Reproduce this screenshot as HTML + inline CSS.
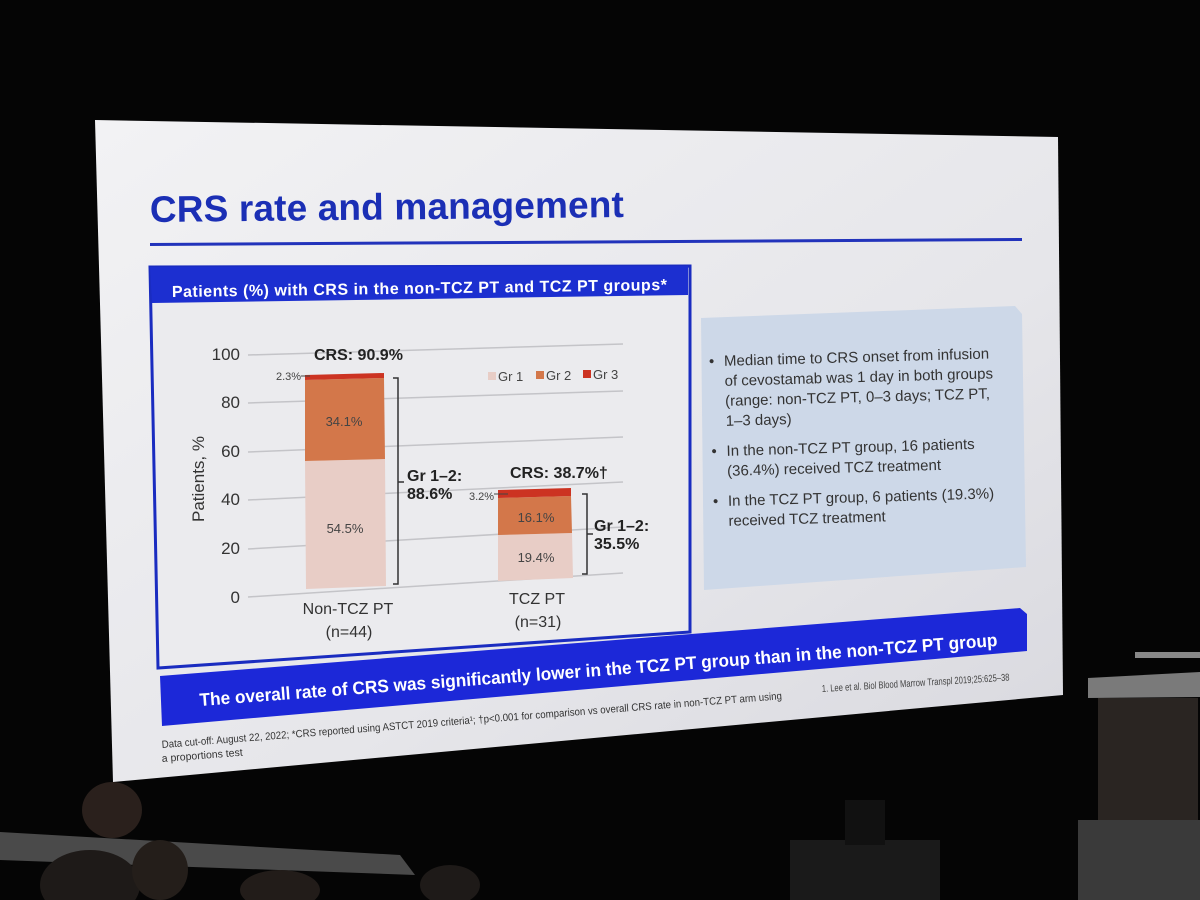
<!DOCTYPE html>
<html><head><meta charset="utf-8"><style>
html,body{margin:0;padding:0;background:#000;width:1200px;height:900px;overflow:hidden}
svg{display:block}
text{font-family:"Liberation Sans",Arial,sans-serif}
</style></head><body>
<svg width="1200" height="900" viewBox="0 0 1200 900">
<defs>
<linearGradient id="sl" x1="0" y1="0" x2="1" y2="1">
<stop offset="0" stop-color="#f2f2f4"/><stop offset="0.6" stop-color="#e6e6ea"/><stop offset="1" stop-color="#d8d8de"/>
</linearGradient>
</defs>
<rect width="1200" height="900" fill="#050505"/>
<polygon points="95,120 1058,137 1063,695 113,782" fill="url(#sl)"/>
<text x="150" y="222" font-size="37" font-weight="bold" fill="#1b2fb5" transform="rotate(-0.6 150 222)" textLength="474">CRS rate and management</text>
<polygon points="150,243 1022,238 1022,241 150,246" fill="#2233bb"/>
<polygon points="150,267 690,266 690,632 158,668" fill="#ebebee" stroke="#1a2cc0" stroke-width="3"/>
<polygon points="150,267 688,266 688,295 152,303" fill="#1c2fd0"/>
<text x="172" y="297" font-size="16" font-weight="bold" fill="#fff" transform="rotate(-0.8 172 297)" textLength="495">Patients (%) with CRS in the non-TCZ PT and TCZ PT groups*</text>
<g stroke="#c4c4c8" stroke-width="1.5">
<line x1="248" y1="355" x2="623" y2="344"/>
<line x1="248" y1="403" x2="623" y2="391"/>
<line x1="248" y1="452" x2="623" y2="437"/>
<line x1="248" y1="500" x2="623" y2="482"/>
<line x1="248" y1="549" x2="623" y2="527"/>
<line x1="248" y1="597" x2="623" y2="573"/>
</g>
<g font-size="17" fill="#333" text-anchor="end">
<text x="240" y="360">100</text><text x="240" y="408">80</text><text x="240" y="457">60</text>
<text x="240" y="505">40</text><text x="240" y="554">20</text><text x="240" y="603">0</text>
</g>
<text x="0" y="0" font-size="17" fill="#333" transform="translate(204 522) rotate(-90)">Patients, %</text>
<polygon points="306,589 386,586 385,459 305,461" fill="#e8cdc6"/>
<polygon points="305,461 385,459 384,378 305,380" fill="#d3774a"/>
<polygon points="305,380 384,378 384,373 305,375" fill="#cc3322"/>
<text x="345" y="533" font-size="13" fill="#444" text-anchor="middle">54.5%</text>
<text x="344" y="426" font-size="13" fill="#444" text-anchor="middle">34.1%</text>
<text x="276" y="380" font-size="11" fill="#444">2.3%</text>
<line x1="301" y1="376" x2="310" y2="376" stroke="#444"/>
<text x="314" y="360" font-size="16" font-weight="bold" fill="#222">CRS: 90.9%</text>
<path d="M393,378 h5 v206 h-5 M398,482 h6" fill="none" stroke="#333" stroke-width="1.5"/>
<text x="407" y="481" font-size="16" font-weight="bold" fill="#222">Gr 1–2:</text>
<text x="407" y="499" font-size="16" font-weight="bold" fill="#222">88.6%</text>
<text x="348" y="614" font-size="16" fill="#333" text-anchor="middle">Non-TCZ PT</text>
<text x="349" y="637" font-size="16" fill="#333" text-anchor="middle">(n=44)</text>
<polygon points="498,581 573,578 572,533 498,535" fill="#e8cdc6"/>
<polygon points="498,535 572,533 571,496 498,498" fill="#d3774a"/>
<polygon points="498,498 571,496 571,488 498,490" fill="#cc3322"/>
<text x="536" y="562" font-size="13" fill="#444" text-anchor="middle">19.4%</text>
<text x="536" y="522" font-size="13" fill="#444" text-anchor="middle">16.1%</text>
<text x="469" y="500" font-size="11" fill="#444">3.2%</text>
<line x1="494" y1="494" x2="508" y2="494" stroke="#444"/>
<text x="510" y="478" font-size="16" font-weight="bold" fill="#222">CRS: 38.7%†</text>
<path d="M582,494 h5 v80 h-5 M587,534 h6" fill="none" stroke="#333" stroke-width="1.5"/>
<text x="594" y="531" font-size="16" font-weight="bold" fill="#222">Gr 1–2:</text>
<text x="594" y="549" font-size="16" font-weight="bold" fill="#222">35.5%</text>
<text x="537" y="604" font-size="16" fill="#333" text-anchor="middle">TCZ PT</text>
<text x="538" y="627" font-size="16" fill="#333" text-anchor="middle">(n=31)</text>
<rect x="488" y="372" width="8" height="8" fill="#e8cdc6"/><text x="498" y="381" font-size="13" fill="#444">Gr 1</text>
<rect x="536" y="371" width="8" height="8" fill="#d3774a"/><text x="546" y="380" font-size="13" fill="#444">Gr 2</text>
<rect x="583" y="370" width="8" height="8" fill="#cc3322"/><text x="593" y="379" font-size="13" fill="#444">Gr 3</text>
<polygon points="701,318 1015,306 1022,314 1026,567 704,590" fill="#cdd8e8"/>
<g font-size="15" fill="#333" transform="rotate(-1.6 720 360)">
<text x="709" y="366">•</text>
<text x="724" y="366">Median time to CRS onset from infusion</text>
<text x="724" y="386">of cevostamab was 1 day in both groups</text>
<text x="724" y="406">(range: non-TCZ PT, 0–3 days; TCZ PT,</text>
<text x="724" y="426">1–3 days)</text>
<text x="709" y="456">•</text>
<text x="724" y="456">In the non-TCZ PT group, 16 patients</text>
<text x="724" y="476">(36.4%) received TCZ treatment</text>
<text x="709" y="506">•</text>
<text x="724" y="506">In the TCZ PT group, 6 patients (19.3%)</text>
<text x="724" y="526">received TCZ treatment</text>
</g>
<polygon points="160,676 1020,608 1027,614 1027,651 162,726" fill="#1c28d8"/>
<text x="200" y="706" font-size="18" font-weight="bold" fill="#fff" transform="rotate(-4.3 200 706)" textLength="800" lengthAdjust="spacingAndGlyphs">The overall rate of CRS was significantly lower in the TCZ PT group than in the non-TCZ PT group</text>
<text x="822" y="692" font-size="10" fill="#444" transform="rotate(-3.5 822 692)" textLength="188" lengthAdjust="spacingAndGlyphs">1. Lee et al. Biol Blood Marrow Transpl 2019;25:625–38</text>
<text x="162" y="748" font-size="10.5" fill="#333" transform="rotate(-4.5 162 748)" textLength="622" lengthAdjust="spacingAndGlyphs">Data cut-off: August 22, 2022; *CRS reported using ASTCT 2019 criteria¹; †p&lt;0.001 for comparison vs overall CRS rate in non-TCZ PT arm using</text>
<text x="162" y="762" font-size="10.5" fill="#333" transform="rotate(-4.5 162 762)">a proportions test</text>
<polygon points="1088,678 1200,672 1200,697 1088,698" fill="#7a7a7a"/>
<rect x="1135" y="652" width="65" height="6" fill="#888"/>
<rect x="1098" y="698" width="100" height="125" fill="#2a2522"/>
<rect x="1078" y="820" width="122" height="80" fill="#3a3a3a"/>
<rect x="790" y="840" width="150" height="60" fill="#1a1a1a"/>
<rect x="845" y="800" width="40" height="45" fill="#111"/>
<polygon points="0,832 400,855 415,875 0,860" fill="#4a4a4a"/>
<ellipse cx="112" cy="810" rx="30" ry="28" fill="#2a201c"/>
<ellipse cx="90" cy="885" rx="50" ry="35" fill="#1e1a18"/>
<ellipse cx="160" cy="870" rx="28" ry="30" fill="#241e1a"/>
<ellipse cx="280" cy="890" rx="40" ry="20" fill="#221c19"/>
<ellipse cx="450" cy="885" rx="30" ry="20" fill="#1e1a18"/>
</svg>
</body></html>
